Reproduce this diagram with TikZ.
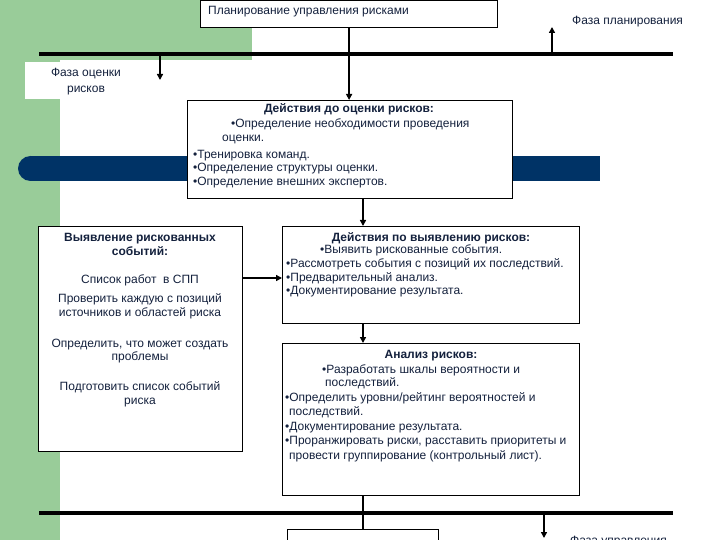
\documentclass[tikz,border=0pt]{standalone}
\usepackage{fontspec}
\setmainfont{Liberation Sans}
\usetikzlibrary{arrows.meta}
\definecolor{gr}{HTML}{99CC99}
\definecolor{navy}{HTML}{003366}
\definecolor{tx}{HTML}{14213D}
\begin{document}
\begin{tikzpicture}[x=1pt,y=-1pt,
 box/.style={draw=black,line width=1.2pt,fill=white,inner sep=0,anchor=north west},
 t/.style={font=\fontsize{12}{14}\selectfont, text=tx, inner sep=0, anchor=base west},
 tc/.style={t, anchor=base},
 tb/.style={tc, font=\fontsize{12}{14}\selectfont\bfseries},
 arr/.style={line width=1.8pt,-{Triangle[length=6pt,width=6pt]}},
 ln/.style={line width=1.8pt},
 hbar/.style={line width=3.5pt}]
\useasboundingbox (0,0) rectangle (720,540);
\clip (0,0) rectangle (720,540);
% background
\fill[gr] (0,0) rectangle (252,60);
\fill[gr] (0,0) rectangle (60,540);
\fill[white] (25,62) rectangle (125,99);
% horizontal lines
\coordinate (tl) at (39,54);
\coordinate (tr) at (673,54);
\coordinate (bl) at (39,513);
\coordinate (br) at (673,513);
\draw[hbar] (tl) -- (tr);
\draw[hbar] (bl) -- (br);
% navy bar
\fill[navy] (30.5,156) rectangle (600,181);
\fill[navy] (30.5,168.5) circle (12.5);
% boxes
\node[box, minimum width=297pt, minimum height=27pt] (plan) at (200,0) {};
\node[box, minimum width=325pt, minimum height=98pt] (b2) at (187,100) {};
\node[box, minimum width=204pt, minimum height=225pt] (lft) at (38,226) {};
\node[box, minimum width=297pt, minimum height=97pt] (b3) at (282,226) {};
\node[box, minimum width=297pt, minimum height=152pt] (b4) at (282,343) {};
\node[box, minimum width=151pt, minimum height=40pt] (b5) at (287,529) {};
% phase labels
\node[t] (ph1) at (572,25) {Фаза планирования};
\node[tc] (ph2a) at (86,77) {Фаза оценки};
\node[tc] (ph2b) at (86,93) {рисков};
\node[t] (ph3) at (570,544) {Фаза управления};
% texts
\node[t] (p1) at (208,15) {Планирование управления рисками};
\node[tb] (h2) at (349,113) {Действия до оценки рисков:};
\node[t] (l21) at (231,128) {•Определение необходимости проведения};
\node[t] (l22) at (222,142) {оценки.};
\node[t] (l23) at (193,159) {•Тренировка команд.};
\node[t] (l24) at (193,172) {•Определение структуры оценки.};
\node[t] (l25) at (193,186) {•Определение внешних экспертов.};
\node[tb] (hl1) at (140,241) {Выявление рискованных};
\node[tb] (hl2) at (140,255) {событий:};
\node[tc] (ll1) at (140,283) {Список работ\ \ в СПП};
\node[tc] (ll2) at (140,302) {Проверить каждую с позиций};
\node[tc] (ll3) at (140,316) {источников и областей риска};
\node[tc] (ll4) at (140,347) {Определить, что может создать};
\node[tc] (ll5) at (140,360) {проблемы};
\node[tc] (ll6) at (140,390) {Подготовить список событий};
\node[tc] (ll7) at (140,404) {риска};
\node[tb] (h3) at (431,241) {Действия по выявлению рисков:};
\node[t] (l31) at (320,253) {•Выявить рискованные события.};
\node[t] (l32) at (286,267) {•Рассмотреть события с позиций их последствий.};
\node[t] (l33) at (286,281) {•Предварительный анализ.};
\node[t] (l34) at (286,294) {•Документирование результата.};
\node[tb] (h4) at (431,358) {Анализ рисков:};
\node[t] (l41) at (322,373) {•Разработать шкалы вероятности и};
\node[t] (l42) at (325,386) {последствий.};
\node[t] (l43) at (285,401) {•Определить уровни/рейтинг вероятностей и};
\node[t] (l44) at (289,415) {последствий.};
\node[t] (l45) at (285,430) {•Документирование результата.};
\node[t] (l46) at (285,444) {•Проранжировать риски, расставить приоритеты и};
\node[t] (l47) at (289,459) {провести группирование (контрольный лист).};
% connectors
\coordinate (vA) at (160,0);
\coordinate (vB) at (552,0);
\coordinate (vC) at (363,0);
\coordinate (vD) at (544,0);
\coordinate (hA) at (0,278);
\draw[arr] (plan.south) -- (plan.south |- b2.north);
\draw[arr] (vA |- tl) -- (vA |- 0,80);
\draw[arr] (vB |- tl) -- (vB |- 0,27);
\draw[arr] (vC |- b2.south) -- (vC |- b3.north);
\draw[arr] (lft.east |- hA) -- (b3.west |- hA);
\draw[arr] (vC |- b3.south) -- (vC |- b4.north);
\draw[ln] (vC |- b4.south) -- (vC |- b5.north);
\draw[arr] (vD |- bl) -- (vD |- 0,538);
\end{tikzpicture}
\end{document}
